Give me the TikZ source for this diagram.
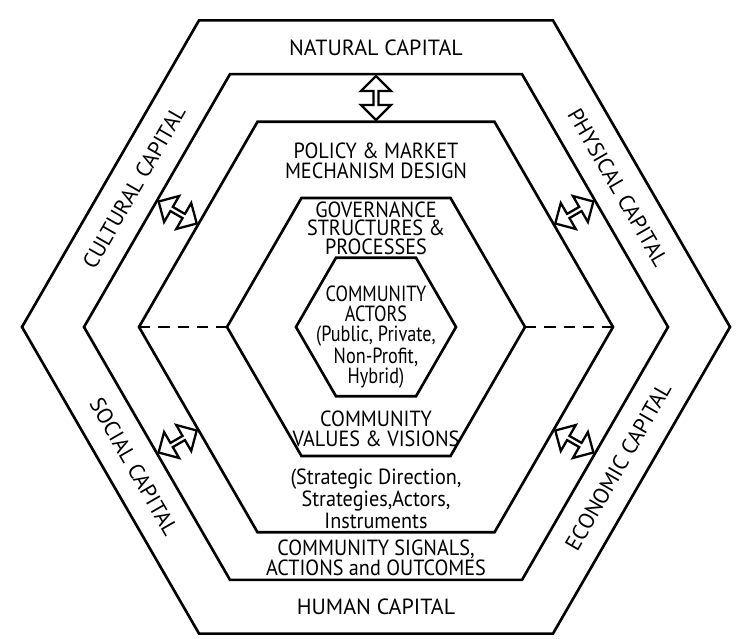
\documentclass[tikz,border=0pt]{standalone}
\usepackage{fontspec}
\setmainfont{PT Sans}
\newfontfamily\midfont[FakeStretch=0.92]{PT Sans}
\newfontfamily\tightfont[FakeStretch=0.83]{PT Sans}
\usetikzlibrary{shapes.geometric,shapes.arrows}

\begin{document}
\begin{tikzpicture}[
  hexa/.style={regular polygon,regular polygon sides=6,draw,line width=1.5pt,
    inner sep=0pt,outer sep=0pt,minimum size=#1},
  lbl/.style={align=center,inner sep=0pt,font=\fontsize{12.5}{11.3}\selectfont},
  midlbl/.style={lbl,font=\midfont\fontsize{12.5}{11.3}\selectfont},
  tightlbl/.style={lbl,font=\tightfont\fontsize{12.5}{11.3}\selectfont},
  link/.style={double arrow,draw,fill=white,line width=1.3pt,inner sep=0pt,
    minimum width=0.6cm,minimum height=0.88cm,double arrow head extend=0.12cm},
  gap/.style={line width=1.5pt,dash pattern=on 6.5pt off 4.5pt}]
\useasboundingbox (-7.52,-6.22) rectangle (7.56,6.54);
% nested hexagons, outer to inner
\node[hexa=14.16cm] (natural) at (0,0) {};
\node[hexa=11.68cm] (signals) at (0,0) {};
\node[hexa=9.48cm] (policy) at (0,0) {};
\node[hexa=5.96cm] (governance) at (0,0) {};
\node[hexa=3.2cm] (actors) at (0,0) {};
% dashed splits of the policy band
\draw[gap] (policy.west) -- (governance.west);
\draw[gap] (governance.east) -- (policy.east);
% capitals in the outer band
\node[lbl] (natcap) at (90:5.59) {NATURAL CAPITAL};
\node[lbl] (humcap) at (270:5.59) {HUMAN CAPITAL};
\node[lbl,rotate=60] (culcap) at (150:5.59) {CULTURAL CAPITAL};
\node[lbl,rotate=-60] (phycap) at (30:5.59) {PHYSICAL CAPITAL};
\node[lbl,rotate=-60] (soccap) at (210:5.59) {SOCIAL CAPITAL};
\node[lbl,rotate=60] (ecocap) at (330:5.59) {ECONOMIC CAPITAL};
% exchange arrows in the second band
\node[link,rotate=90] (xn) at (90:4.58) {};
\node[link,rotate=150] (xc) at (150:4.58) {};
\node[link,rotate=30] (xp) at (30:4.58) {};
\node[link,rotate=210] (xs) at (210:4.58) {};
\node[link,rotate=330] (xe) at (330:4.58) {};
\node[midlbl] (outcomes) at (270:4.62) {COMMUNITY SIGNALS,\\ACTIONS and OUTCOMES};
% inner bands
\node[midlbl] (design) at (90:3.32) {POLICY \& MARKET\\MECHANISM DESIGN};
\node[midlbl] (direction) at (270:3.44) {(Strategic Direction,\\Strategies,Actors,\\Instruments};
\node[midlbl,font=\midfont\fontsize{12.5}{10.6}\selectfont] (structures) at (90:1.98) {GOVERNANCE\\STRUCTURES \&\\PROCESSES};
\node[midlbl] (values) at (270:2.04) {COMMUNITY\\VALUES \& VISIONS};
\node[tightlbl] (who) at (0,-0.2) {COMMUNITY\\ACTORS\\(Public, Private,\\Non-Profit,\\Hybrid)};
\end{tikzpicture}
\end{document}
